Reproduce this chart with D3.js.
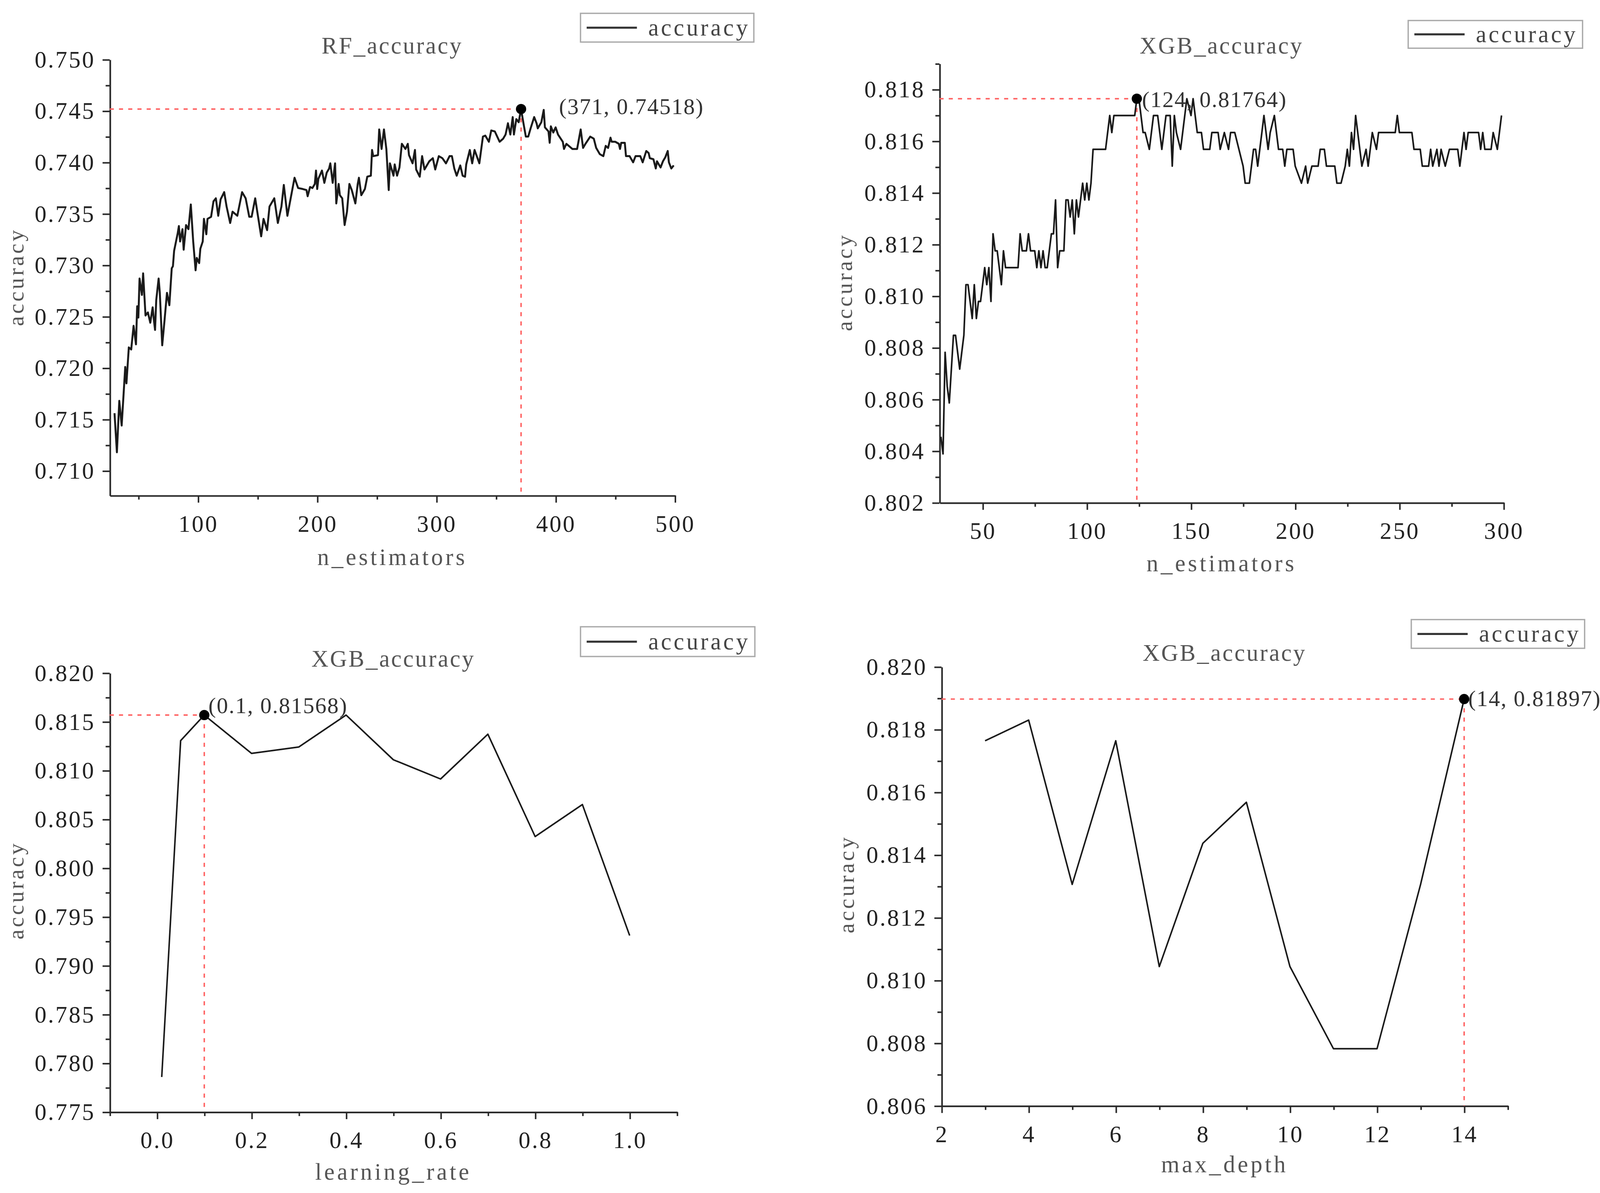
<!DOCTYPE html>
<html>
<head>
<meta charset="utf-8">
<script src="https://cdn.jsdelivr.net/npm/d3@7"></script>
<style>
  body { margin: 0; background: #fff; }
  svg { display: block; }
  text { font-family: "Liberation Serif", "DejaVu Serif", serif; }
</style>
</head>
<body>
<svg id="chart"></svg>
<script>
// ---- data ----
var rfN = [30,32,34,36,39,40,42,44,46,48,49,50,51,53,54,56,58,60,62,63,64,65,67,68,70,72,74,76,78,79,80,83,84,85,87,88,90,92,94,96,98,99,101,102,104,105,107,108,111,113,115,117,119,122,124,127,129,133,137,140,143,145,148,150,153,155,158,160,164,167,170,172,175,181,184,188,191,192,194,196,198,199,200,201,204,206,208,210,211,213,215,216,218,219,221,223,225,227,229,232,234,235,237,240,242,245,246,247,251,252,254,256,258,260,261,264,265,267,269,271,274,276,277,280,282,283,286,288,290,294,297,299,302,305,308,311,313,315,317,320,322,324,325,328,330,332,336,339,341,344,346,349,351,353,356,358,360,362,364,365,367,369,371,373,375,377,379,382,384,385,388,390,391,394,395,396,398,400,402,406,407,409,412,414,418,421,423,425,429,432,434,437,440,442,444,446,447,450,453,454,455,458,459,462,465,467,471,473,476,478,479,482,484,485,488,490,492,494,495,497,499];
var rfAcc = [0.7156,0.7118,0.7168,0.7144,0.7201,0.7185,0.7220,0.7218,0.7241,0.7223,0.7260,0.7249,0.7287,0.7271,0.7292,0.7251,0.7254,0.7244,0.7259,0.7247,0.7237,0.7266,0.7287,0.7273,0.7222,0.7247,0.7273,0.7261,0.7297,0.7299,0.7314,0.7331,0.7338,0.7323,0.7335,0.7315,0.7339,0.7335,0.7359,0.7323,0.7295,0.7307,0.7302,0.7316,0.7323,0.7345,0.7330,0.7345,0.7347,0.7362,0.7365,0.7348,0.7364,0.7371,0.7357,0.7341,0.7352,0.7348,0.7371,0.7365,0.7347,0.7347,0.7365,0.7350,0.7328,0.7345,0.7334,0.7357,0.7365,0.7341,0.7357,0.7378,0.7348,0.7385,0.7375,0.7374,0.7373,0.7367,0.7376,0.7375,0.7379,0.7392,0.7374,0.7384,0.7392,0.7380,0.7390,0.7394,0.7399,0.7380,0.7399,0.7360,0.7379,0.7368,0.7365,0.7339,0.7352,0.7379,0.7373,0.7360,0.7379,0.7385,0.7368,0.7374,0.7386,0.7387,0.7412,0.7406,0.7407,0.7432,0.7413,0.7432,0.7413,0.7373,0.7399,0.7387,0.7398,0.7387,0.7395,0.7418,0.7413,0.7418,0.7407,0.7399,0.7412,0.7393,0.7386,0.7406,0.7393,0.7401,0.7404,0.7393,0.7406,0.7404,0.7399,0.7406,0.7406,0.7394,0.7387,0.7397,0.7387,0.7386,0.7398,0.7412,0.7399,0.7412,0.7399,0.7425,0.7426,0.7420,0.7431,0.7430,0.7425,0.7420,0.7423,0.7427,0.7438,0.7427,0.7444,0.7427,0.7442,0.7439,0.74518,0.7438,0.7425,0.7425,0.7433,0.7444,0.7438,0.7433,0.7439,0.7451,0.7434,0.7430,0.7419,0.7435,0.7429,0.7434,0.7427,0.7420,0.7413,0.7418,0.7415,0.7413,0.7413,0.7432,0.7414,0.7418,0.7425,0.7423,0.7414,0.7408,0.7406,0.7416,0.7414,0.7424,0.7420,0.7420,0.7418,0.7413,0.7419,0.7419,0.7406,0.7406,0.7400,0.7406,0.7406,0.7400,0.7411,0.7409,0.7404,0.7403,0.7394,0.7401,0.7395,0.7401,0.7405,0.7411,0.7400,0.7394,0.7397];

var xgbN = [30,31,32,33,34,36,37,39,41,42,43,45,46,47,48,49,50,51,52,53,54,55,56,57,59,60,61,67,68,69,71,72,73,75,76,77,78,79,80,81,83,84,85,86,87,89,90,91,92,93,94,95,96,97,98,99,100,101,102,103,109,111,112,113,120,123,124,125,127,128,130,132,134,136,138,140,141,142,143,145,148,150,151,153,155,156,159,160,163,164,166,168,169,171,173,175,176,178,180,181,182,184,185,187,188,190,192,194,195,196,199,200,203,205,206,208,211,212,214,215,219,220,222,224,225,226,227,228,229,232,234,235,237,239,240,248,249,250,256,257,260,261,264,265,266,268,269,270,272,274,278,279,281,282,283,288,289,290,291,294,295,297,299];
var xgbAcc = [0.80455,0.80389,0.80782,0.80651,0.80586,0.80848,0.80848,0.80717,0.80848,0.81044,0.81044,0.80913,0.81044,0.80913,0.80979,0.80979,0.81044,0.81110,0.81044,0.81110,0.80979,0.81241,0.81175,0.81175,0.81044,0.81175,0.81110,0.81110,0.81241,0.81175,0.81175,0.81241,0.81175,0.81175,0.81110,0.81175,0.81110,0.81175,0.81110,0.81110,0.81241,0.81241,0.81372,0.81110,0.81175,0.81175,0.81372,0.81372,0.81306,0.81372,0.81241,0.81372,0.81306,0.81372,0.81437,0.81372,0.81437,0.81372,0.81437,0.81568,0.81568,0.81699,0.81633,0.81699,0.81699,0.81699,0.81764,0.81764,0.81633,0.81633,0.81568,0.81699,0.81699,0.81568,0.81699,0.81699,0.81503,0.81699,0.81633,0.81568,0.81764,0.81699,0.81764,0.81633,0.81633,0.81568,0.81568,0.81633,0.81633,0.81568,0.81633,0.81568,0.81633,0.81633,0.81568,0.81503,0.81437,0.81437,0.81568,0.81568,0.81503,0.81633,0.81699,0.81568,0.81633,0.81699,0.81568,0.81568,0.81503,0.81568,0.81568,0.81503,0.81437,0.81503,0.81437,0.81503,0.81503,0.81568,0.81568,0.81503,0.81503,0.81437,0.81437,0.81503,0.81568,0.81503,0.81633,0.81568,0.81699,0.81503,0.81568,0.81503,0.81633,0.81568,0.81633,0.81633,0.81699,0.81633,0.81633,0.81568,0.81568,0.81503,0.81503,0.81568,0.81503,0.81568,0.81503,0.81568,0.81503,0.81568,0.81568,0.81503,0.81633,0.81568,0.81633,0.81633,0.81568,0.81633,0.81568,0.81568,0.81633,0.81568,0.81699];

var lrRates = [0.01,0.05,0.1,0.2,0.3,0.4,0.5,0.6,0.7,0.8,0.9,1.0];
var lrAcc = [0.77858,0.81306,0.81568,0.81175,0.81241,0.81568,0.81110,0.80913,0.81372,0.80323,0.80651,0.79308];

var depths = [3,4,5,6,7,8,9,10,11,12,13,14];
var depthAcc = [0.81764,0.81830,0.81306,0.81764,0.81044,0.81437,0.81568,0.81044,0.80782,0.80782,0.81306,0.81897];

// tick labels
var rfXTicks = [100,200,300,400,500];
var rfYTicks = [0.710,0.715,0.720,0.725,0.730,0.735,0.740,0.745,0.750];
var nXTicks = [50,100,150,200,250,300];
var nYTicks = [0.802,0.804,0.806,0.808,0.810,0.812,0.814,0.816,0.818];
var lrXTicks = [0.0,0.2,0.4,0.6,0.8,1.0];
var lrYTicks = [0.775,0.780,0.785,0.790,0.795,0.800,0.805,0.810,0.815,0.820];
var depthXTicks = [2,4,6,8,10,12,14];
var depthYTicks = [0.806,0.808,0.810,0.812,0.814,0.816,0.818,0.820];

var titles = ["RF_accuracy","XGB_accuracy","XGB_accuracy","XGB_accuracy"];
var xLabels = ["n_estimators","n_estimators","learning_rate","max_depth"];
var seriesName = "accuracy";

// ---- layout (drawn in a 1568 x 1163 box, scaled to the page) ----
var W = 4117, H = 3053, VW = 1568, VH = 1163;

var svg = d3.select("#chart")
    .attr("width", W)
    .attr("height", H)
    .attr("viewBox", "0 0 " + VW + " " + VH)
    .attr("preserveAspectRatio", "none");

svg.append("rect").attr("width", VW).attr("height", VH).attr("fill", "#fff");

var panels = [
  { title: titles[0], xLabel: xLabels[0], xs: rfN, ys: rfAcc, lineW: 1.9,
    left: 107, right: 658, top: 58, bottom: 483,
    xDomain: [26, 500], yDomain: [0.7076, 0.750],
    xTicks: rfXTicks, xMinor: d3.range(50, 451, 100), xFmt: d3.format("d"),
    yTicks: rfYTicks, yMinor: d3.range(0.7125, 0.748, 0.005), yFmt: d3.format(".3f"),
    titleY: 52, xLabelY: 551, yLabelX: 15, yLabelY: 270,
    legend: [566, 13, 169, 28], note: [37, 5] },
  { title: titles[1], xLabel: xLabels[1], xs: xgbN, ys: xgbAcc, lineW: 1.6,
    left: 916, right: 1466, top: 62, bottom: 490,
    xDomain: [29.3, 300], yDomain: [0.802, 0.819],
    xTicks: nXTicks, xMinor: d3.range(75, 276, 50), xFmt: d3.format("d"),
    yTicks: nYTicks, yMinor: d3.range(0.803, 0.8195, 0.002), yFmt: d3.format(".3f"),
    titleY: 52, xLabelY: 557, yLabelX: 823, yLabelY: 275,
    legend: [1373, 20, 170, 27], note: [5, 8] },
  { title: titles[2], xLabel: xLabels[2], xs: lrRates, ys: lrAcc, lineW: 1.5,
    left: 107, right: 660, top: 656, bottom: 1084,
    xDomain: [-0.1, 1.1], yDomain: [0.775, 0.820],
    xTicks: lrXTicks, xMinor: d3.range(-0.1, 1.15, 0.2), xFmt: d3.format(".1f"),
    yTicks: lrYTicks, yMinor: d3.range(0.7775, 0.818, 0.005), yFmt: d3.format(".3f"),
    titleY: 650, xLabelY: 1150, yLabelX: 15, yLabelY: 868,
    legend: [566, 611, 170, 29], note: [4, -2] },
  { title: titles[3], xLabel: xLabels[3], xs: depths, ys: depthAcc, lineW: 1.5,
    left: 918, right: 1470, top: 650, bottom: 1078,
    xDomain: [2, 15], yDomain: [0.806, 0.820],
    xTicks: depthXTicks, xMinor: d3.range(3, 15.5, 2), xFmt: d3.format("d"),
    yTicks: depthYTicks, yMinor: d3.range(0.807, 0.8195, 0.002), yFmt: d3.format(".3f"),
    titleY: 644, xLabelY: 1143, yLabelX: 825, yLabelY: 862,
    legend: [1376, 604, 169, 28], note: [4, 7] }
];

panels.forEach(drawPanel);

function styleAxis(g) {
  g.select(".domain").attr("stroke", "#2a2a2a").attr("stroke-width", 1.6);
  g.selectAll(".tick line").attr("stroke", "#2a2a2a").attr("stroke-width", 1.5);
  g.selectAll(".tick text")
      .attr("fill", "#222")
      .style("font-size", "23px")
      .style("letter-spacing", "1.5px");
}

function drawPanel(p) {
  var x = d3.scaleLinear().domain(p.xDomain).range([p.left, p.right]);
  var y = d3.scaleLinear().domain(p.yDomain).range([p.bottom, p.top]);
  var g = svg.append("g");

  // minor ticks
  g.append("g")
      .attr("transform", "translate(0," + p.bottom + ")")
      .call(d3.axisBottom(x).tickValues(p.xMinor).tickSize(4).tickFormat(""))
      .call(styleAxis)
      .select(".domain").remove();
  g.append("g")
      .attr("transform", "translate(" + p.left + ",0)")
      .call(d3.axisLeft(y).tickValues(p.yMinor).tickSize(4).tickFormat(""))
      .call(styleAxis)
      .select(".domain").remove();

  // main axes
  g.append("g")
      .attr("transform", "translate(0," + p.bottom + ")")
      .call(d3.axisBottom(x).tickValues(p.xTicks).tickSize(7).tickSizeOuter(0)
              .tickPadding(12).tickFormat(p.xFmt))
      .call(styleAxis);
  g.append("g")
      .attr("transform", "translate(" + p.left + ",0)")
      .call(d3.axisLeft(y).tickValues(p.yTicks).tickSize(7).tickSizeOuter(0)
              .tickPadding(7).tickFormat(p.yFmt))
      .call(styleAxis);

  // best point guides
  var bi = d3.maxIndex(p.ys);
  var bx = p.xs[bi], by = p.ys[bi];
  g.append("line")
      .attr("x1", p.left).attr("x2", x(bx))
      .attr("y1", y(by)).attr("y2", y(by))
      .attr("stroke", "#ff6060").attr("stroke-width", 1.4)
      .attr("stroke-dasharray", "4,5");
  g.append("line")
      .attr("x1", x(bx)).attr("x2", x(bx))
      .attr("y1", y(by)).attr("y2", p.bottom)
      .attr("stroke", "#ff6060").attr("stroke-width", 1.4)
      .attr("stroke-dasharray", "4,5");

  // series line
  var pts = p.xs.map(function(d, i) { return [d, p.ys[i]]; });
  g.append("path")
      .datum(pts)
      .attr("fill", "none")
      .attr("stroke", "#1a1a1a")
      .attr("stroke-width", p.lineW)
      .attr("stroke-linejoin", "round")
      .attr("d", d3.line().x(function(d) { return x(d[0]); }).y(function(d) { return y(d[1]); }));

  g.append("circle")
      .attr("cx", x(bx)).attr("cy", y(by)).attr("r", 5)
      .attr("fill", "#000");

  g.append("text")
      .attr("x", x(bx) + p.note[0])
      .attr("y", y(by) + p.note[1])
      .attr("fill", "#333")
      .style("font-size", "22px")
      .style("letter-spacing", "0.8px")
      .text("(" + bx + ", " + d3.format(".5f")(by) + ")");

  // titles
  var cx = (p.left + p.right) / 2;
  g.append("text")
      .attr("x", cx).attr("y", p.titleY)
      .attr("text-anchor", "middle")
      .attr("fill", "#555")
      .style("font-size", "23px")
      .style("letter-spacing", "1.5px")
      .text(p.title);
  g.append("text")
      .attr("x", cx).attr("y", p.xLabelY)
      .attr("text-anchor", "middle")
      .attr("fill", "#555")
      .style("font-size", "23px")
      .style("letter-spacing", "2.4px")
      .text(p.xLabel);
  g.append("text")
      .attr("transform", "translate(" + p.yLabelX + "," + p.yLabelY + ") rotate(-90)")
      .attr("text-anchor", "middle")
      .attr("dy", "0.35em")
      .attr("fill", "#555")
      .style("font-size", "22px")
      .style("letter-spacing", "2.2px")
      .text(seriesName);

  // legend
  var L = p.legend;
  g.append("rect")
      .attr("x", L[0]).attr("y", L[1]).attr("width", L[2]).attr("height", L[3])
      .attr("fill", "#fff").attr("stroke", "#aaa").attr("stroke-width", 1.3);
  g.append("line")
      .attr("x1", L[0] + 6).attr("x2", L[0] + 55)
      .attr("y1", L[1] + L[3] / 2).attr("y2", L[1] + L[3] / 2)
      .attr("stroke", "#333").attr("stroke-width", 2);
  g.append("text")
      .attr("x", L[0] + 66).attr("y", L[1] + L[3] / 2)
      .attr("dy", "0.33em")
      .attr("fill", "#444")
      .style("font-size", "23px")
      .style("letter-spacing", "2.2px")
      .text(seriesName);
}
</script>
</body>
</html>
